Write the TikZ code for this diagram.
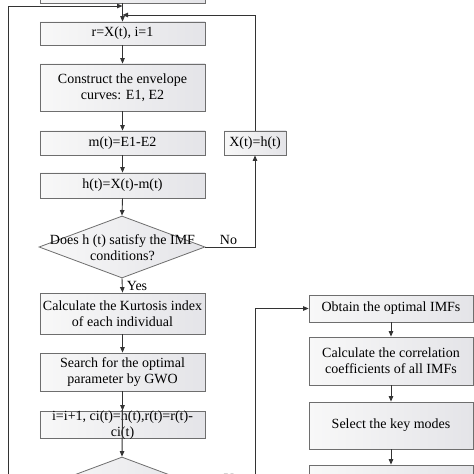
\documentclass[tikz,border=0pt]{standalone}
\usepackage{fontspec}
\setmainfont{Liberation Serif}
\usetikzlibrary{arrows.meta,shapes.geometric}
\definecolor{lineC}{HTML}{333333}
\definecolor{boxline}{HTML}{6E6E6E}
\definecolor{boxL}{HTML}{F8F8F8}
\definecolor{boxR}{HTML}{E4E4E8}
\newcommand\diafont{\fontsize{14bp}{16bp}\selectfont}
\tikzset{
  box/.style={draw=boxline, line width=0.8bp, left color=boxL, right color=boxR,
    inner sep=0pt, minimum width=165bp, align=center, font=\diafont},
  rbox/.style={box, minimum width=164bp},
  dec/.style={draw=boxline, line width=0.8bp, left color=boxL, right color=boxR,
    shape=diamond, inner sep=0pt, minimum width=166bp, minimum height=62bp},
  txt/.style={inner sep=0pt, align=center, font=\diafont},
  arr/.style={draw=lineC, line width=0.9bp, -{Triangle[length=5.5bp,width=4.5bp]}},
  ln/.style={draw=lineC, line width=0.9bp},
}
\begin{document}
\begin{tikzpicture}[x=1bp,y=-1bp]
\path[use as bounding box] (0,0) rectangle (474,474);
\clip (0,0) rectangle (474,474);
\fill[white] (0,0) rectangle (474,474);

% left column
\node[box, minimum height=30bp] (top) at (122.5,-12) {};
\node[box, minimum height=23bp] (r) at (122.5,33.5) {r=X(t), i=1};
\node[box, minimum height=47bp] (cons) at (122.5,87.5) {Construct the envelope\\curves: E1, E2};
\node[box, minimum height=24bp] (m) at (122.5,143) {m(t)=E1-E2};
\node[box, minimum height=25bp] (h) at (122.5,185.5) {h(t)=X(t)-m(t)};
\node[dec] (d1) at (122,247) {};
\node[txt] (d1t) at (122.5,247.5) {Does h (t) satisfy the IMF\\conditions?};
\node[box, minimum height=41bp] (kurt) at (122.5,313.5) {Calculate the Kurtosis index\\of each individual};
\node[box, minimum height=38bp] (search) at (122.5,372) {Search for the optimal\\parameter by GWO};
\node[box, minimum height=27bp] (inc) at (122.5,424.5) {};
\node[txt] (inct) at (122.5,425) {i=i+1, ci(t)=h(t),r(t)=r(t)-\\ci(t)};
\node[dec] (d2) at (122,488) {};

% side box
\node[box, minimum width=62bp, minimum height=24bp] (xh) at (255,143) {X(t)=h(t)};

% right column
\node[rbox, minimum height=27bp] (obtain) at (391,308.5) {Obtain the optimal IMFs};
\node[rbox, minimum height=48bp] (corr) at (391,361) {Calculate the correlation\\coefficients of all IMFs};
\node[rbox, minimum height=47bp] (sel) at (391,425.5) {Select the key modes};
\node[rbox, minimum height=30bp] (nx) at (391,480) {};

% labels
\node[txt] (no1) at (228.5,239.5) {No};
\node[txt] (yes1) at (137,286) {Yes};
\node[txt] (yes2) at (234,479) {Yes};

% junction coordinates
\coordinate (j1) at (122.5,6);
\coordinate (j2) at (122.5,15);
\coordinate (lb) at (8,488);
\coordinate (yc) at (255,488);

% connectors
\draw[arr] (top.south) -- (r.north);
\draw[arr] (r.south) -- (cons.north);
\draw[arr] (cons.south) -- (m.north);
\draw[arr] (m.south) -- (h.north);
\draw[arr] (h.south) -- (d1.north);
\draw[arr] (d1.south) -- (kurt.north);
\draw[arr] (kurt.south) -- (search.north);
\draw[arr] (search.south) -- (inc.north);
\draw[arr] (inc.north) -- (d2.north);
\draw[arr] (d1.east) -| (xh.south);
\draw[arr] (xh.north) |- (j2);
\draw[arr] (d2.west) -- (lb) |- (j1);
\draw[arr] (d2.east) -- (yc) |- (obtain.west);
\draw[arr] (obtain.south) -- (corr.north);
\draw[arr] (corr.south) -- (sel.north);
\draw[arr] (sel.south) -- (nx.north);
\end{tikzpicture}
\end{document}
